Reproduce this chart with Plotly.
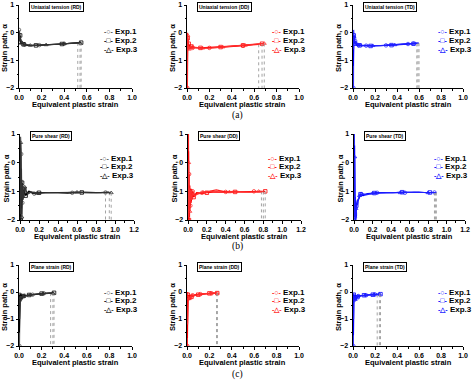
import plotly.graph_objects as go

# ---------------- data ----------------
exp_names = ["Exp.1", "Exp.2", "Exp.3"]
row_captions = ["(a)", "(b)", "(c)"]
panel_titles = ["Uniaxial tension (RD)", "Uniaxial tension (DD)", "Uniaxial tension (TD)",
                "Pure shear (RD)", "Pure shear (DD)", "Pure shear (TD)",
                "Plane strain (RD)", "Plane strain (DD)", "Plane strain (TD)"]
x_title = "Equivalent plastic strain"
y_title = "Strain path, α"
x_tick_max = [1.0, 1.2, 1.0]
y_ticks = [1, 0, -1, -2]

ut_rd_x = [[0, 0.004, 0.008, 0.012, 0.02, 0.03, 0.05, 0.08, 0.12, 0.18, 0.25, 0.32, 0.40, 0.47, 0.52],
           [0, 0.005, 0.01, 0.015, 0.025, 0.04, 0.06, 0.1, 0.15, 0.22, 0.3, 0.38, 0.45, 0.5, 0.55],
           [0, 0.006, 0.012, 0.02, 0.03, 0.05, 0.07, 0.1, 0.16, 0.24, 0.32, 0.4, 0.48, 0.54]]
ut_rd_y = [[0.1, -0.3, 0.0, -0.35, -0.3, -0.4, -0.43, -0.45, -0.46, -0.45, -0.44, -0.42, -0.40, -0.38, -0.37],
           [0.0, -0.2, -0.1, -0.4, -0.35, -0.42, -0.45, -0.47, -0.46, -0.45, -0.43, -0.41, -0.39, -0.37, -0.36],
           [0.05, -0.25, -0.15, -0.38, -0.33, -0.44, -0.44, -0.46, -0.46, -0.44, -0.42, -0.40, -0.38, -0.37]]

ut_dd_x = [[0.003, 0.005, 0.008, 0.012, 0.02, 0.03, 0.05, 0.1, 0.15, 0.2, 0.3, 0.4, 0.5, 0.58, 0.64],
           [0.002, 0.006, 0.01, 0.015, 0.025, 0.04, 0.07, 0.12, 0.2, 0.3, 0.4, 0.5, 0.6, 0.67],
           [0.004, 0.007, 0.01, 0.02, 0.03, 0.05, 0.08, 0.14, 0.22, 0.32, 0.42, 0.52, 0.62, 0.69]]
ut_dd_y = [[-2.0, 0.0, -0.3, -0.55, -0.45, -0.5, -0.55, -0.55, -0.56, -0.55, -0.53, -0.50, -0.47, -0.44, -0.42],
           [-1.5, -0.2, -0.5, -0.4, -0.55, -0.5, -0.53, -0.55, -0.54, -0.52, -0.49, -0.46, -0.43, -0.40],
           [-1.8, -0.1, -0.45, -0.6, -0.48, -0.52, -0.54, -0.56, -0.55, -0.52, -0.49, -0.46, -0.42, -0.39]]

ut_td_x = [[0.004, 0.006, 0.01, 0.015, 0.02, 0.03, 0.05, 0.08, 0.12, 0.2, 0.3, 0.4, 0.5, 0.58],
           [0.003, 0.007, 0.012, 0.02, 0.035, 0.06, 0.1, 0.16, 0.25, 0.35, 0.45, 0.55, 0.60],
           [0.005, 0.008, 0.013, 0.025, 0.04, 0.07, 0.12, 0.18, 0.28, 0.38, 0.48, 0.55, 0.59]]
ut_td_y = [[-2.0, 0.1, -0.2, -0.35, -0.3, -0.42, -0.45, -0.47, -0.47, -0.47, -0.46, -0.44, -0.41, -0.39],
           [-1.2, -0.1, -0.3, -0.4, -0.44, -0.46, -0.47, -0.48, -0.47, -0.45, -0.43, -0.40, -0.38],
           [-0.6, -0.15, -0.25, -0.38, -0.43, -0.45, -0.47, -0.47, -0.46, -0.44, -0.41, -0.39, -0.38]]

ps_rd_x = [[0.003, 0.006, 0.01, 0.013, 0.017, 0.02, 0.025, 0.03, 0.04, 0.05, 0.07, 0.1, 0.15, 0.25, 0.4, 0.55, 0.7, 0.85, 0.9],
           [0.002, 0.005, 0.008, 0.012, 0.016, 0.022, 0.03, 0.04, 0.06, 0.09, 0.13, 0.2, 0.35, 0.5, 0.65, 0.8, 0.94],
           [0.004, 0.007, 0.011, 0.015, 0.02, 0.028, 0.035, 0.05, 0.08, 0.12, 0.18, 0.3, 0.45, 0.6, 0.75, 0.9, 0.96]]
ps_rd_y = [[-2, 0.9, -1.5, 0.3, -1.8, -0.6, -1.4, -0.8, -1.2, -0.9, -1.1, -1.0, -1.08, -1.05, -1.04, -1.05, -1.03, -1.05, -1.04],
           [-1.5, 0.5, -2, -0.3, -1.6, -0.7, -1.3, -0.95, -1.15, -1.0, -1.06, -1.05, -1.04, -1.06, -1.04, -1.05, -1.03],
           [-1.8, 0.7, -1.2, -0.2, -1.9, -0.75, -1.25, -0.85, -1.1, -1.02, -1.07, -1.04, -1.05, -1.03, -1.05, -1.04, -1.05]]

ps_dd_x = [[0.002, 0.005, 0.008, 0.012, 0.016, 0.02, 0.025, 0.03, 0.04, 0.05, 0.07, 0.1, 0.15, 0.22, 0.3, 0.4, 0.5, 0.6, 0.7, 0.78],
           [0.003, 0.006, 0.01, 0.014, 0.019, 0.025, 0.032, 0.045, 0.06, 0.09, 0.13, 0.2, 0.3, 0.4, 0.5, 0.6, 0.7, 0.82],
           [0.004, 0.007, 0.011, 0.015, 0.02, 0.028, 0.036, 0.05, 0.07, 0.1, 0.16, 0.24, 0.34, 0.44, 0.55, 0.65, 0.75, 0.8]]
ps_dd_y = [[-2, 1.0, -1.8, -0.4, -1.9, -0.8, -1.5, -0.9, -1.3, -1.0, -1.15, -1.05, -1.05, -1.0, -0.95, -1.02, -1.0, -1.02, -1.0, -1.0],
           [-1.7, 0.4, -2, -0.8, -1.6, -1.0, -1.4, -1.1, -1.2, -1.05, -1.08, -1.05, -1.02, -1.03, -1.02, -1.03, -1.01, -1.0],
           [-1.9, 0.0, -1.5, -0.9, -1.7, -0.95, -1.3, -1.05, -1.15, -1.1, -1.03, -1.0, -1.04, -1.02, -1.01, -1.03, -1.0, -1.01]]

ps_td_x = [[0.002, 0.004, 0.007, 0.01, 0.015, 0.02, 0.03, 0.04, 0.06, 0.08, 0.12, 0.18, 0.25, 0.35, 0.45, 0.55, 0.65, 0.75, 0.87],
           [0.003, 0.006, 0.009, 0.013, 0.018, 0.025, 0.035, 0.05, 0.07, 0.1, 0.15, 0.22, 0.32, 0.42, 0.52, 0.62, 0.72, 0.82, 0.88],
           [0.004, 0.008, 0.012, 0.016, 0.022, 0.03, 0.045, 0.06, 0.09, 0.13, 0.2, 0.3, 0.4, 0.5, 0.6, 0.7, 0.8, 0.89]]
ps_td_y = [[-2, 1.0, -1.0, -1.9, -1.2, -1.7, -1.4, -1.3, -1.2, -1.1, -1.1, -1.08, -1.05, -1.05, -1.04, -1.05, -1.03, -1.04, -1.04],
           [-1.6, 0.6, -1.8, -1.3, -2.0, -1.5, -1.4, -1.25, -1.1, -1.15, -1.08, -1.06, -1.04, -1.05, -1.03, -1.04, -1.05, -1.04, -1.04],
           [-1.9, 0.2, -1.5, -2.0, -1.6, -1.5, -1.3, -1.15, -1.1, -1.12, -1.07, -1.05, -1.04, -1.05, -1.04, -1.03, -1.05, -1.04]]

pl_rd_x = [[0.004, 0.006, 0.009, 0.013, 0.02, 0.03, 0.05, 0.08, 0.12, 0.17, 0.22, 0.28],
           [0.003, 0.007, 0.01, 0.015, 0.022, 0.035, 0.06, 0.09, 0.14, 0.2, 0.26, 0.31],
           [0.005, 0.008, 0.012, 0.018, 0.025, 0.04, 0.07, 0.1, 0.15, 0.21, 0.26, 0.3]]
pl_rd_y = [[-2, -0.6, -0.1, -0.25, -0.15, -0.18, -0.14, -0.12, -0.1, -0.07, -0.05, -0.04],
           [-1.5, -0.2, -0.05, -0.2, -0.18, -0.15, -0.13, -0.11, -0.08, -0.06, -0.04, -0.03],
           [-1.0, -0.3, -0.15, -0.22, -0.16, -0.17, -0.13, -0.1, -0.08, -0.06, -0.05, -0.04]]

pl_dd_x = [[0.003, 0.006, 0.01, 0.015, 0.022, 0.03, 0.05, 0.08, 0.12, 0.17, 0.22, 0.265],
           [0.004, 0.007, 0.012, 0.018, 0.026, 0.04, 0.06, 0.1, 0.15, 0.2, 0.25, 0.27],
           [0.005, 0.008, 0.013, 0.02, 0.03, 0.045, 0.07, 0.11, 0.16, 0.21, 0.25, 0.268]]
pl_dd_y = [[-2, 0.0, -0.25, -0.12, -0.2, -0.15, -0.12, -0.1, -0.08, -0.06, -0.05, -0.04],
           [-1.7, -0.1, -0.3, -0.2, -0.15, -0.18, -0.13, -0.1, -0.07, -0.05, -0.04, -0.04],
           [-1.2, -0.2, -0.15, -0.25, -0.17, -0.14, -0.12, -0.09, -0.06, -0.05, -0.04, -0.04]]

pl_td_x = [[0.003, 0.006, 0.01, 0.015, 0.022, 0.03, 0.05, 0.08, 0.12, 0.16, 0.2, 0.22],
           [0.004, 0.007, 0.012, 0.018, 0.026, 0.04, 0.06, 0.1, 0.14, 0.18, 0.22, 0.25],
           [0.005, 0.008, 0.013, 0.02, 0.03, 0.045, 0.07, 0.11, 0.15, 0.19, 0.23, 0.24]]
pl_td_y = [[-2, -0.05, -0.3, -0.15, -0.22, -0.18, -0.15, -0.13, -0.12, -0.1, -0.09, -0.09],
           [-1.6, -0.1, -0.25, -0.2, -0.16, -0.19, -0.14, -0.12, -0.11, -0.1, -0.09, -0.08],
           [-1.0, -0.15, -0.2, -0.28, -0.17, -0.15, -0.13, -0.12, -0.1, -0.09, -0.08, -0.08]]

all_x = [ut_rd_x, ut_dd_x, ut_td_x, ps_rd_x, ps_dd_x, ps_td_x, pl_rd_x, pl_dd_x, pl_td_x]
all_y = [ut_rd_y, ut_dd_y, ut_td_y, ps_rd_y, ps_dd_y, ps_td_y, pl_rd_y, pl_dd_y, pl_td_y]

# ---------------- styling ----------------
W, H = 474, 382
col_px = [(19, 132), (187, 299), (353, 463)]
row_px = [(5, 88), (134, 220), (265, 346)]
col_colors = [["#555555", "#000000", "#333333"],
              ["#ff2020", "#ff0000", "#ff3030"],
              ["#3030ff", "#0000ff", "#2020ff"]]
symbols = ["circle-open", "square-open", "triangle-up-open"]
sym_chars = ["○", "□", "△"]
FONT = "Liberation Sans, Arial, sans-serif"
title_font = dict(family=FONT, size=7.5, color="black", weight="bold")

fig = go.Figure()
annotations = []
layout = {}

for i in range(9):
    r, c = divmod(i, 3)
    n = "" if i == 0 else str(i + 1)
    xa, ya = "x" + n, "y" + n
    x0, x1 = col_px[c]
    if r == 1:
        x0 += 1; x1 += 2
    y0, y1 = row_px[r]
    xmax = x_tick_max[r]
    for e in range(3):
        xs, ys = all_x[i][e], all_y[i][e]
        fig.add_trace(go.Scatter(
            x=xs, y=ys, xaxis=xa, yaxis=ya, mode="lines+markers", showlegend=False,
            line=dict(color=col_colors[c][e], width=1.2),
            marker=dict(symbol=symbols[e], size=3.5, color=col_colors[c][e], maxdisplayed=7,
                        line=dict(width=0.8, color=col_colors[c][e])),
            cliponaxis=True))
        # vertical drop at fracture end
        fig.add_trace(go.Scatter(
            x=[xs[-1], xs[-1]], y=[ys[-1], -2], xaxis=xa, yaxis=ya, mode="lines",
            showlegend=False, line=dict(color="#9a9a9a", width=0.9, dash="dot")))
    axis_font = dict(family=FONT, size=7, color="black", weight="bold")
    layout["xaxis" + n] = dict(
        domain=[x0 / W, x1 / W], anchor=ya, range=[0, xmax], dtick=0.2, tick0=0,
        tickformat=".1f", showgrid=False, zeroline=False, showline=True, automargin=False,
        linecolor="black", linewidth=1, ticks="outside", ticklen=2.5, tickwidth=1,
        tickcolor="black", tickfont=axis_font,
        minor=dict(ticks="outside", ticklen=1.5, dtick=0.1, tickcolor="black"))
    layout["yaxis" + n] = dict(
        domain=[1 - y1 / H, 1 - y0 / H], anchor=xa, range=[-2, 1], automargin=False,
        tickvals=y_ticks, showgrid=False, zeroline=False, showline=True,
        linecolor="black", linewidth=1, ticks="outside", ticklen=2.5, tickwidth=1,
        tickcolor="black", tickfont=axis_font,
        minor=dict(ticks="outside", ticklen=1.5, dtick=0.5, tickcolor="black"))
    # axis titles
    annotations.append(dict(xref="paper", yref="paper", x=(x0 + x1) / 2 / W,
                            y=1 - (y1 + 16) / H, xanchor="center", yanchor="middle",
                            text=x_title, showarrow=False, font=title_font))
    annotations.append(dict(xref="paper", yref="paper", x=(x0 - 14.5) / W,
                            y=1 - ((y0 + y1) / 2 + 2) / H, xanchor="center", yanchor="middle",
                            text=y_title, textangle=-90, showarrow=False, font=title_font))
    # title box
    bx = (x0 + 10) / W
    by = 1 - (y0 + 1.5) / H
    annotations.append(dict(xref="paper", yref="paper", x=bx, y=by, xanchor="left",
                            yanchor="middle", text=panel_titles[i], showarrow=False,
                            font=dict(family=FONT, size=5, color="black", weight="bold"),
                            bgcolor="white", bordercolor="black", borderwidth=1, borderpad=1))
    # legend (annotations)
    lx_off = 78 if r == 1 else 83
    ly_off = 24 if r == 1 else 27
    for e in range(3):
        txt = (f"<span style='color:{col_colors[c][e]};font-size:7px'>-{sym_chars[e]}-</span>"
               f" {exp_names[e]}")
        annotations.append(dict(xref="paper", yref="paper", x=(x0 + lx_off) / W,
                                y=1 - (y0 + ly_off + e * 8.7) / H, xanchor="left",
                                yanchor="middle", text=txt, showarrow=False,
                                font=dict(family=FONT, size=8, color="black", weight="bold")))

caption_y = [115.5, 246.5, 374]
for r in range(3):
    annotations.append(dict(xref="paper", yref="paper", x=237 / W, y=1 - caption_y[r] / H,
                            xanchor="center", yanchor="middle", text=row_captions[r],
                            showarrow=False,
                            font=dict(family="Liberation Serif, Times New Roman, serif",
                                      size=9.5, color="black")))

fig.update_layout(**layout)
fig.update_layout(width=W, height=H, margin=dict(l=0, r=0, t=0, b=0, autoexpand=False),
                  paper_bgcolor="white", plot_bgcolor="white",
                  annotations=annotations, showlegend=False)
fig.write_html("out.html", config={"displayModeBar": False},
               post_script="document.body.style.margin='0px';")
